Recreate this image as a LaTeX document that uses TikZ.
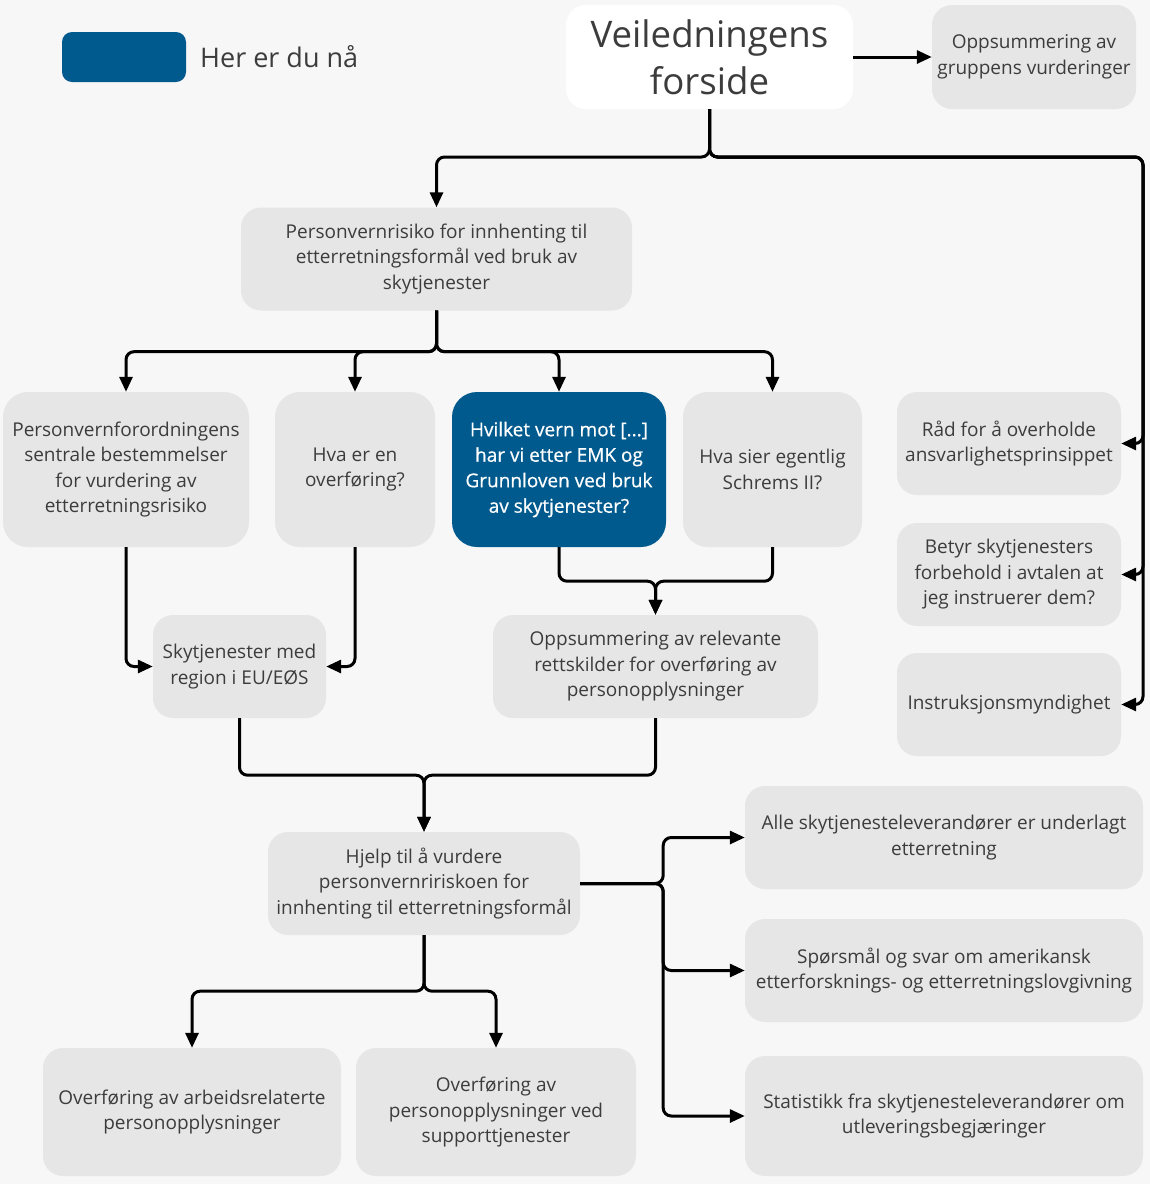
\documentclass[tikz,border=0pt]{standalone}
\usepackage{fontspec}
\setmainfont{Open Sans}
\newfontfamily\semib{Open Sans}[FakeBold=0.6]
\usetikzlibrary{arrows.meta}
\definecolor{bg}{HTML}{F7F7F7}
\definecolor{boxgray}{HTML}{E6E6E6}
\definecolor{navy}{HTML}{005A8E}
\definecolor{txt}{HTML}{3C3C3C}
\begin{document}
\begin{tikzpicture}[x=1pt,y=-1pt,
  box/.style={fill=boxgray, rounded corners=20pt, inner sep=0pt, align=center, text=txt,
    font=\fontsize{19}{25.5}\selectfont},
  cur/.style={box, fill=navy, text=white, font=\semib\fontsize{19}{25.5}\selectfont},
  conn/.style={line width=3pt, rounded corners=8pt, -{Triangle[length=15pt,width=13pt]}}]
\useasboundingbox (0,0) rectangle (1150,1184);
\fill[bg] (0,0) rectangle (1150,1184);
% legend
\node[fill=navy, rounded corners=10pt, minimum width=124pt, minimum height=50pt, inner sep=0pt] (leg) at (124,57) {};
\node[anchor=west, text=txt, inner sep=0pt, font=\fontsize{27}{30}\selectfont] (legt) at (200,57) {Her er du nå};
% nodes
\node[box, fill=white, minimum width=287pt, minimum height=104pt, font=\fontsize{36.6}{47}\selectfont] (vf) at (709.5,57) {Veiledningens\\forside};
\node[box, minimum width=204pt, minimum height=104pt] (og) at (1034,57) {Oppsummering av\\gruppens vurderinger};
\node[box, minimum width=391pt, minimum height=103pt] (pr) at (436.5,259) {Personvernrisiko for innhenting til\\etterretningsformål ved bruk av\\skytjenester};
\node[box, minimum width=246pt, minimum height=155pt, rounded corners=25pt] (pf) at (126,469.5) {Personvernforordningens\\sentrale bestemmelser\\for vurdering av\\etterretningsrisiko};
\node[box, minimum width=160pt, minimum height=155pt, rounded corners=25pt] (hv) at (355,469.5) {Hva er en\\overføring?};
\node[cur, minimum width=214pt, minimum height=155pt, rounded corners=25pt] (hk) at (559,469.5) {Hvilket vern mot [...]\\har vi etter EMK og\\Grunnloven ved bruk\\av skytjenester?};
\node[box, minimum width=179pt, minimum height=155pt, rounded corners=25pt] (hs) at (772.5,469.5) {Hva sier egentlig\\Schrems II?};
\node[box, minimum width=224pt, minimum height=103pt] (raad) at (1009,443.5) {Råd for å overholde\\ansvarlighetsprinsippet};
\node[box, minimum width=224pt, minimum height=103pt] (bet) at (1009,574.5) {Betyr skytjenesters\\forbehold i avtalen at\\jeg instruerer dem?};
\node[box, minimum width=224pt, minimum height=103pt] (ins) at (1009,704.5) {Instruksjonsmyndighet};
\node[box, minimum width=173pt, minimum height=103pt] (sk) at (239.5,666.5) {Skytjenester med\\region i EU/EØS};
\node[box, minimum width=325pt, minimum height=103pt] (orel) at (655.5,666.5) {Oppsummering av relevante\\rettskilder for overføring av\\personopplysninger};
\node[box, minimum width=312pt, minimum height=103pt] (hj) at (424,883.5) {Hjelp til å vurdere\\personvernririskoen for\\innhenting til etterretningsformål};
\node[box, minimum width=398pt, minimum height=103pt] (alle) at (944,837.5) {Alle skytjenesteleverandører er underlagt\\etterretning};
\node[box, minimum width=398pt, minimum height=103pt] (sp) at (944,970.5) {Spørsmål og svar om amerikansk\\etterforsknings- og etterretningslovgivning};
\node[box, minimum width=398pt, minimum height=120pt] (st) at (944,1116) {Statistikk fra skytjenesteleverandører om\\utleveringsbegjæringer};
\node[box, minimum width=298pt, minimum height=128pt] (ar) at (192,1112) {Overføring av arbeidsrelaterte\\personopplysninger};
\node[box, minimum width=280pt, minimum height=128pt] (su) at (496,1112) {Overføring av\\personopplysninger ved\\supporttjenester};
% connectors
\coordinate (j1) at (709.5,157);
\coordinate (rt) at (1143,157);
\draw[conn] (vf.east) -- (og.west);
\draw[conn] (vf.south) -- (j1) -| (pr.north);
\draw[conn] (vf.south) |- (rt) |- (raad.east);
\draw[conn] (vf.south) |- (rt) |- (bet.east);
\draw[conn] (vf.south) |- (rt) |- (ins.east);
\draw[conn] (pr.south) -- ++(0,41) -| (pf.north);
\draw[conn] (pr.south) -- ++(0,41) -| (hv.north);
\draw[conn] (pr.south) -- ++(0,41) -| (hk.north);
\draw[conn] (pr.south) -- ++(0,41) -| (hs.north);
\draw[conn] (pf.south) |- (sk.west);
\draw[conn] (hv.south) |- (sk.east);
\draw[conn] (hk.south) -- ++(0,34) -| (orel.north);
\draw[conn] (hs.south) -- ++(0,34) -| (orel.north);
\draw[conn] (sk.south) -- ++(0,57) -| (hj.north);
\draw[conn] (orel.south) -- ++(0,57) -| (hj.north);
\draw[conn] (hj.east) -- ++(83,0) |- (alle.west);
\draw[conn] (hj.east) -- ++(83,0) |- (sp.west);
\draw[conn] (hj.east) -- ++(83,0) |- (st.west);
\draw[conn] (hj.south) -- ++(0,56) -| (ar.north);
\draw[conn] (hj.south) -- ++(0,56) -| (su.north);
\end{tikzpicture}
\end{document}
